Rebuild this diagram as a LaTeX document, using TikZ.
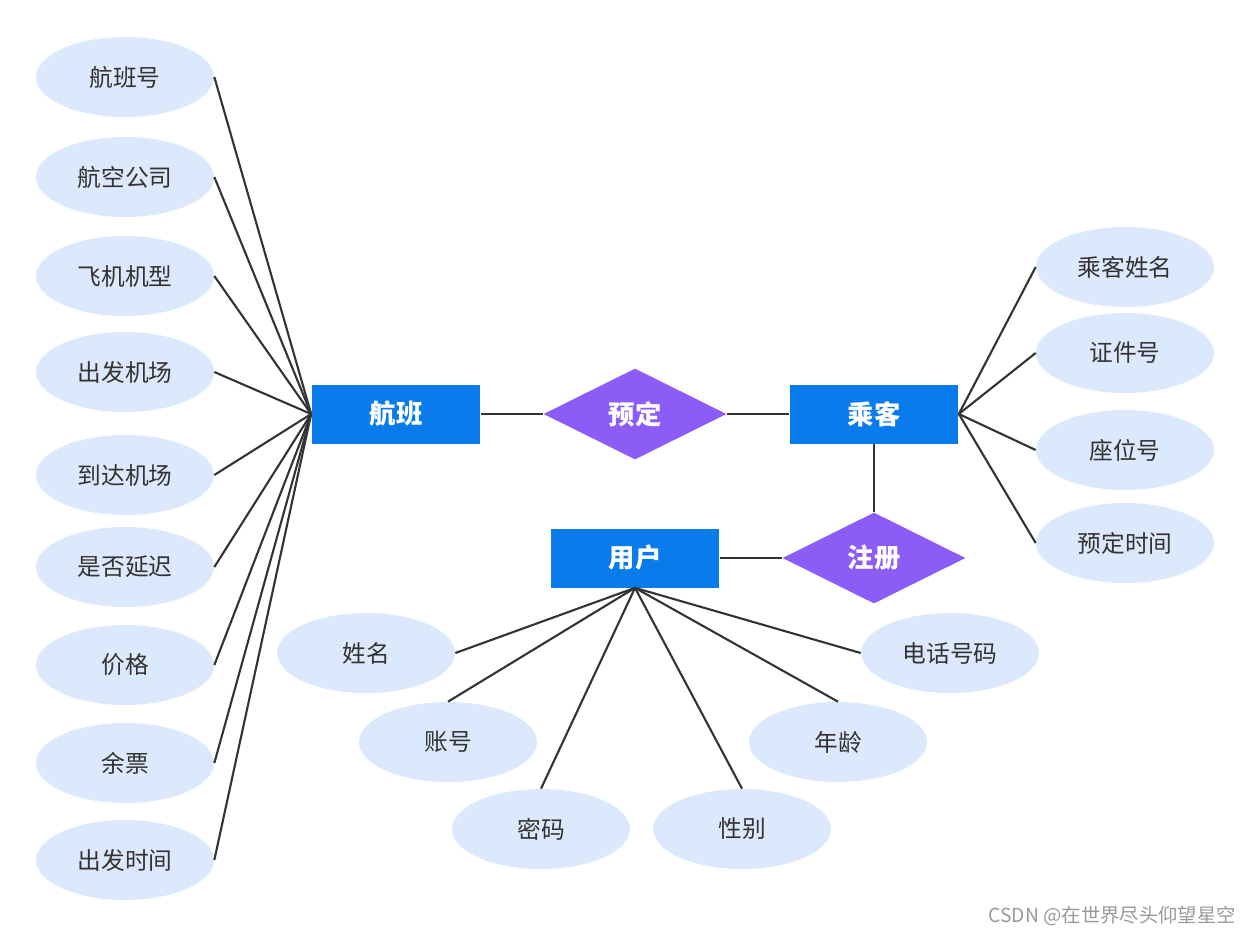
\documentclass[tikz,border=0pt]{standalone}
\usepackage{fontspec}
\setmainfont{Noto Sans CJK SC}
\usetikzlibrary{shapes.geometric}

\definecolor{attrfill}{HTML}{DCE8FB}
\definecolor{entblue}{HTML}{0A7BEB}
\definecolor{relpurple}{HTML}{8C5CF7}
\definecolor{txtgray}{HTML}{333333}
\definecolor{linegray}{HTML}{333333}

\begin{document}
\begin{tikzpicture}[
  x=0.02cm, y=-0.02cm,
  attr/.style={
    ellipse, fill=attrfill, minimum width=3.56cm, minimum height=1.6cm,
    inner sep=0pt, text=txtgray, font=\fontsize{13.5}{16}\selectfont
  },
  entity/.style={
    rectangle, fill=entblue, minimum width=3.38cm, minimum height=1.18cm,
    inner sep=0pt, text=white, font=\fontsize{15}{18}\selectfont\bfseries
  },
  rel/.style={
    diamond, fill=relpurple, minimum width=3.66cm, minimum height=1.82cm,
    inner sep=0pt, text=white, font=\fontsize{15}{18}\selectfont\bfseries
  },
  link/.style={draw=linegray, line width=1.2pt}
]

\useasboundingbox (0,0) rectangle (1250,937);

% entities and relations
\node[entity] (flight) at (396,414) {航班};
\node[rel] (book) at (635,414) {预定};
\node[entity] (passenger) at (874,414) {乘客};
\node[rel] (register) at (874,558) {注册};
\node[entity] (user) at (635,558) {用户};

% flight attributes
\node[attr] (f1) at (125,77) {航班号};
\node[attr] (f2) at (125,177) {航空公司};
\node[attr] (f3) at (125,276) {飞机机型};
\node[attr] (f4) at (125,372) {出发机场};
\node[attr] (f5) at (125,475) {到达机场};
\node[attr] (f6) at (125,567) {是否延迟};
\node[attr] (f7) at (125,665) {价格};
\node[attr] (f8) at (125,763) {余票};
\node[attr] (f9) at (125,860) {出发时间};

% passenger attributes
\node[attr] (p1) at (1125,267) {乘客姓名};
\node[attr] (p2) at (1125,353) {证件号};
\node[attr] (p3) at (1125,450) {座位号};
\node[attr] (p4) at (1125,543) {预定时间};

% user attributes
\node[attr] (u1) at (366,653) {姓名};
\node[attr] (u2) at (448,742) {账号};
\node[attr] (u3) at (541,829) {密码};
\node[attr] (u4) at (742,829) {性别};
\node[attr] (u5) at (838,742) {年龄};
\node[attr] (u6) at (950,653) {电话号码};

% connectors
\foreach \a in {f1,f2,f3,f4,f5,f6,f7,f8,f9}
  \draw[link] (\a.east) -- (flight.west);
\foreach \a in {p1,p2,p3,p4}
  \draw[link] (passenger.east) -- (\a.west);
\draw[link] (user.south) -- (u1.east);
\draw[link] (user.south) -- (u2.north);
\draw[link] (user.south) -- (u3.north);
\draw[link] (user.south) -- (u4.north);
\draw[link] (user.south) -- (u5.north);
\draw[link] (user.south) -- (u6.west);

\draw[link] (flight.east) -- (book.west);
\draw[link] (book.east) -- (passenger.west);
\draw[link] (passenger.south) -- (register.north);
\draw[link] (user.east) -- (register.west);

% watermark
\node[anchor=east, text=gray!80, font=\fontsize{11}{13}\selectfont, inner sep=0pt]
  (mark) at (1236,916) {CSDN @在世界尽头仰望星空};

\end{tikzpicture}
\end{document}
